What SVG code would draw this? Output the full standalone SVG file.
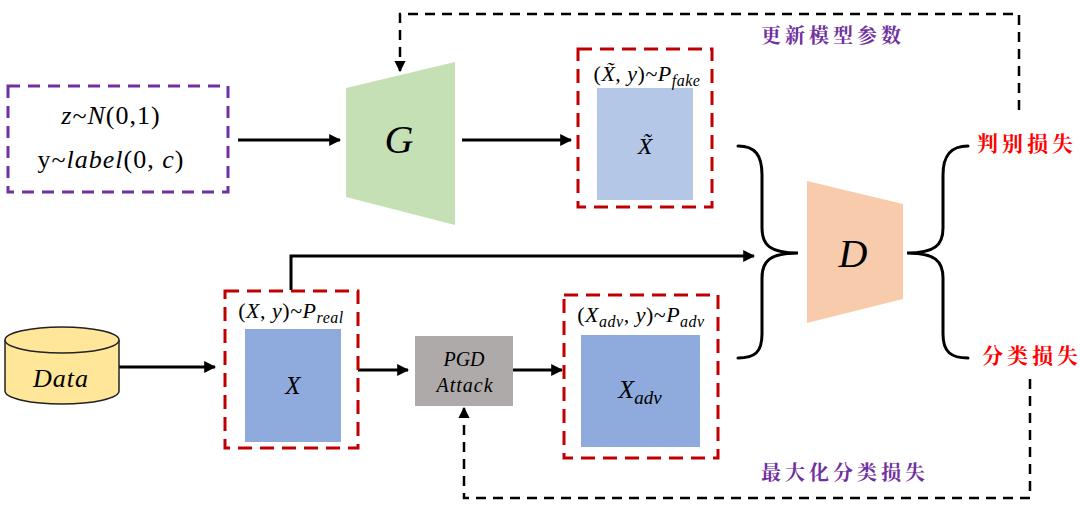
<svg xmlns="http://www.w3.org/2000/svg" width="1080" height="516" viewBox="0 0 1080 516">
<style>
.m{font-family:"Liberation Serif","DejaVu Serif",serif;fill:#000}
.i{font-style:italic}
.cn{font-family:"Noto Serif CJK SC","Noto Sans CJK SC",serif;font-weight:bold;letter-spacing:4px}
.red{fill:none;stroke:#C00000;stroke-width:3;stroke-dasharray:14 8}
.line{fill:none;stroke:#000;stroke-width:3}
.dash{fill:none;stroke:#000;stroke-width:2.5;stroke-dasharray:10 7}
.brace{fill:none;stroke:#000;stroke-width:3;stroke-linecap:round}
</style>
<defs>
<marker id="ah" viewBox="0 0 10 10" refX="9" refY="5" markerWidth="4" markerHeight="4" markerUnits="strokeWidth" orient="auto">
<path d="M0,0 L10,5 L0,10 z" fill="#000"/>
</marker>
<marker id="ah2" viewBox="0 0 10 10" refX="9" refY="5" markerWidth="4.5" markerHeight="4.5" markerUnits="strokeWidth" orient="auto">
<path d="M0,0 L10,5 L0,10 z" fill="#000"/>
</marker>
</defs>

<g id="connectors">
<line class="line" x1="238" y1="140" x2="340" y2="140" marker-end="url(#ah)"/>
<line class="line" x1="462" y1="140" x2="571" y2="140" marker-end="url(#ah)"/>
<line class="line" x1="119" y1="367" x2="215" y2="367" marker-end="url(#ah)"/>
<path class="line" d="M291,290 L291,256 L754,256" marker-end="url(#ah)"/>
<line class="line" x1="358" y1="370" x2="408" y2="370" marker-end="url(#ah)"/>
<line class="line" x1="513" y1="370" x2="562" y2="370" marker-end="url(#ah)"/>
<path class="dash" d="M1019,110 L1019,14 L400,14 L400,71" marker-end="url(#ah2)"/>
<path class="dash" d="M1030,379 L1030,498 L464,498 L464,408" marker-end="url(#ah2)"/>
<path class="brace" d="M738,146 C755,146 762,155 762,175 L762,228 C762,245 770,253 798,253 C770,253 762,261 762,278 L762,334 C762,352 755,358 738,358"/>
<path class="brace" d="M968,146 C951,146 943,155 943,175 L943,228 C943,245 935,253 907,253 C935,253 943,261 943,278 L943,334 C943,352 951,358 968,358"/>
</g>

<g id="noise">
<rect x="8" y="86" width="220" height="106" fill="none" stroke="#7030A0" stroke-width="3" stroke-dasharray="12 8"/>
<text class="m" x="111" y="124" font-size="26" letter-spacing="1" text-anchor="middle"><tspan class="i">z</tspan>~<tspan class="i">N</tspan>(0,1)</text>
<text class="m" x="111" y="168" font-size="26" letter-spacing="1" text-anchor="middle">y~<tspan class="i">label</tspan>(0, <tspan class="i">c</tspan>)</text>
</g>

<g id="G">
<polygon points="346,88 455,62 455,225 346,197" fill="#C5E0B4"/>
<text class="m i" x="399" y="153" font-size="40" text-anchor="middle">G</text>
</g>

<g id="fake">
<rect class="red" x="578" y="49" width="134" height="158"/>
<rect x="597" y="88" width="96" height="112" fill="#B4C7E7"/>
<text class="m" x="647" y="81" font-size="22" letter-spacing="0.5" text-anchor="middle">(<tspan class="i">X̃</tspan>, <tspan class="i">y</tspan>)~<tspan class="i">P</tspan><tspan class="i" font-size="16" dy="5">fake</tspan></text>
<text class="m i" x="645" y="154" font-size="24" text-anchor="middle">X̃</text>
</g>

<g id="update-label">
<text class="cn" x="761" y="43" font-size="20" fill="#7030A0">更新模型参数</text>
</g>

<g id="D">
<polygon points="807,181 903,204 903,299 807,323" fill="#F8CBAD"/>
<text class="m i" x="853" y="267" font-size="40" text-anchor="middle">D</text>
</g>

<g id="loss-labels">
<text class="cn" x="977" y="151" font-size="21" letter-spacing="2.5" fill="#FF0000">判别损失</text>
<text class="cn" x="982" y="363" font-size="21" letter-spacing="2.5" fill="#FF0000">分类损失</text>
</g>

<g id="data">
<path d="M5,340 L5,391 A57,13 0 0 0 119,391 L119,340" fill="#FFE699" stroke="#222" stroke-width="1.5"/>
<ellipse cx="62" cy="340" rx="57" ry="13" fill="#FFE699" stroke="#222" stroke-width="1.5"/>
<text class="m i" x="61" y="387" font-size="26" letter-spacing="1" text-anchor="middle">Data</text>
</g>

<g id="real">
<rect class="red" x="225" y="291" width="133" height="157"/>
<rect x="245" y="329" width="96" height="113" fill="#8FAADC"/>
<text class="m" x="291" y="318" font-size="22" letter-spacing="0.5" text-anchor="middle">(<tspan class="i">X</tspan>, <tspan class="i">y</tspan>)~<tspan class="i">P</tspan><tspan class="i" font-size="16" dy="5">real</tspan></text>
<text class="m i" x="293" y="394" font-size="25" text-anchor="middle">X</text>
</g>

<g id="pgd">
<rect x="415" y="336" width="98" height="70" fill="#AEAAAA"/>
<text class="m i" x="464" y="366" font-size="20" text-anchor="middle">PGD</text>
<text class="m i" x="465" y="392" font-size="20" letter-spacing="1" text-anchor="middle">Attack</text>
</g>

<g id="adv">
<rect class="red" x="564" y="295" width="154" height="163"/>
<rect x="581" y="335" width="119" height="112" fill="#8FAADC"/>
<text class="m" x="641" y="322" font-size="22" letter-spacing="0.5" text-anchor="middle">(<tspan class="i">X</tspan><tspan class="i" font-size="16" dy="5">adv</tspan><tspan dy="-5">, </tspan><tspan class="i">y</tspan>)~<tspan class="i">P</tspan><tspan class="i" font-size="16" dy="5">adv</tspan></text>
<text class="m i" x="640" y="398" font-size="26" text-anchor="middle">X<tspan font-size="19" dy="6">adv</tspan></text>
</g>

<g id="max-label">
<text class="cn" x="761" y="480" font-size="20" fill="#7030A0">最大化分类损失</text>
</g>
</svg>
